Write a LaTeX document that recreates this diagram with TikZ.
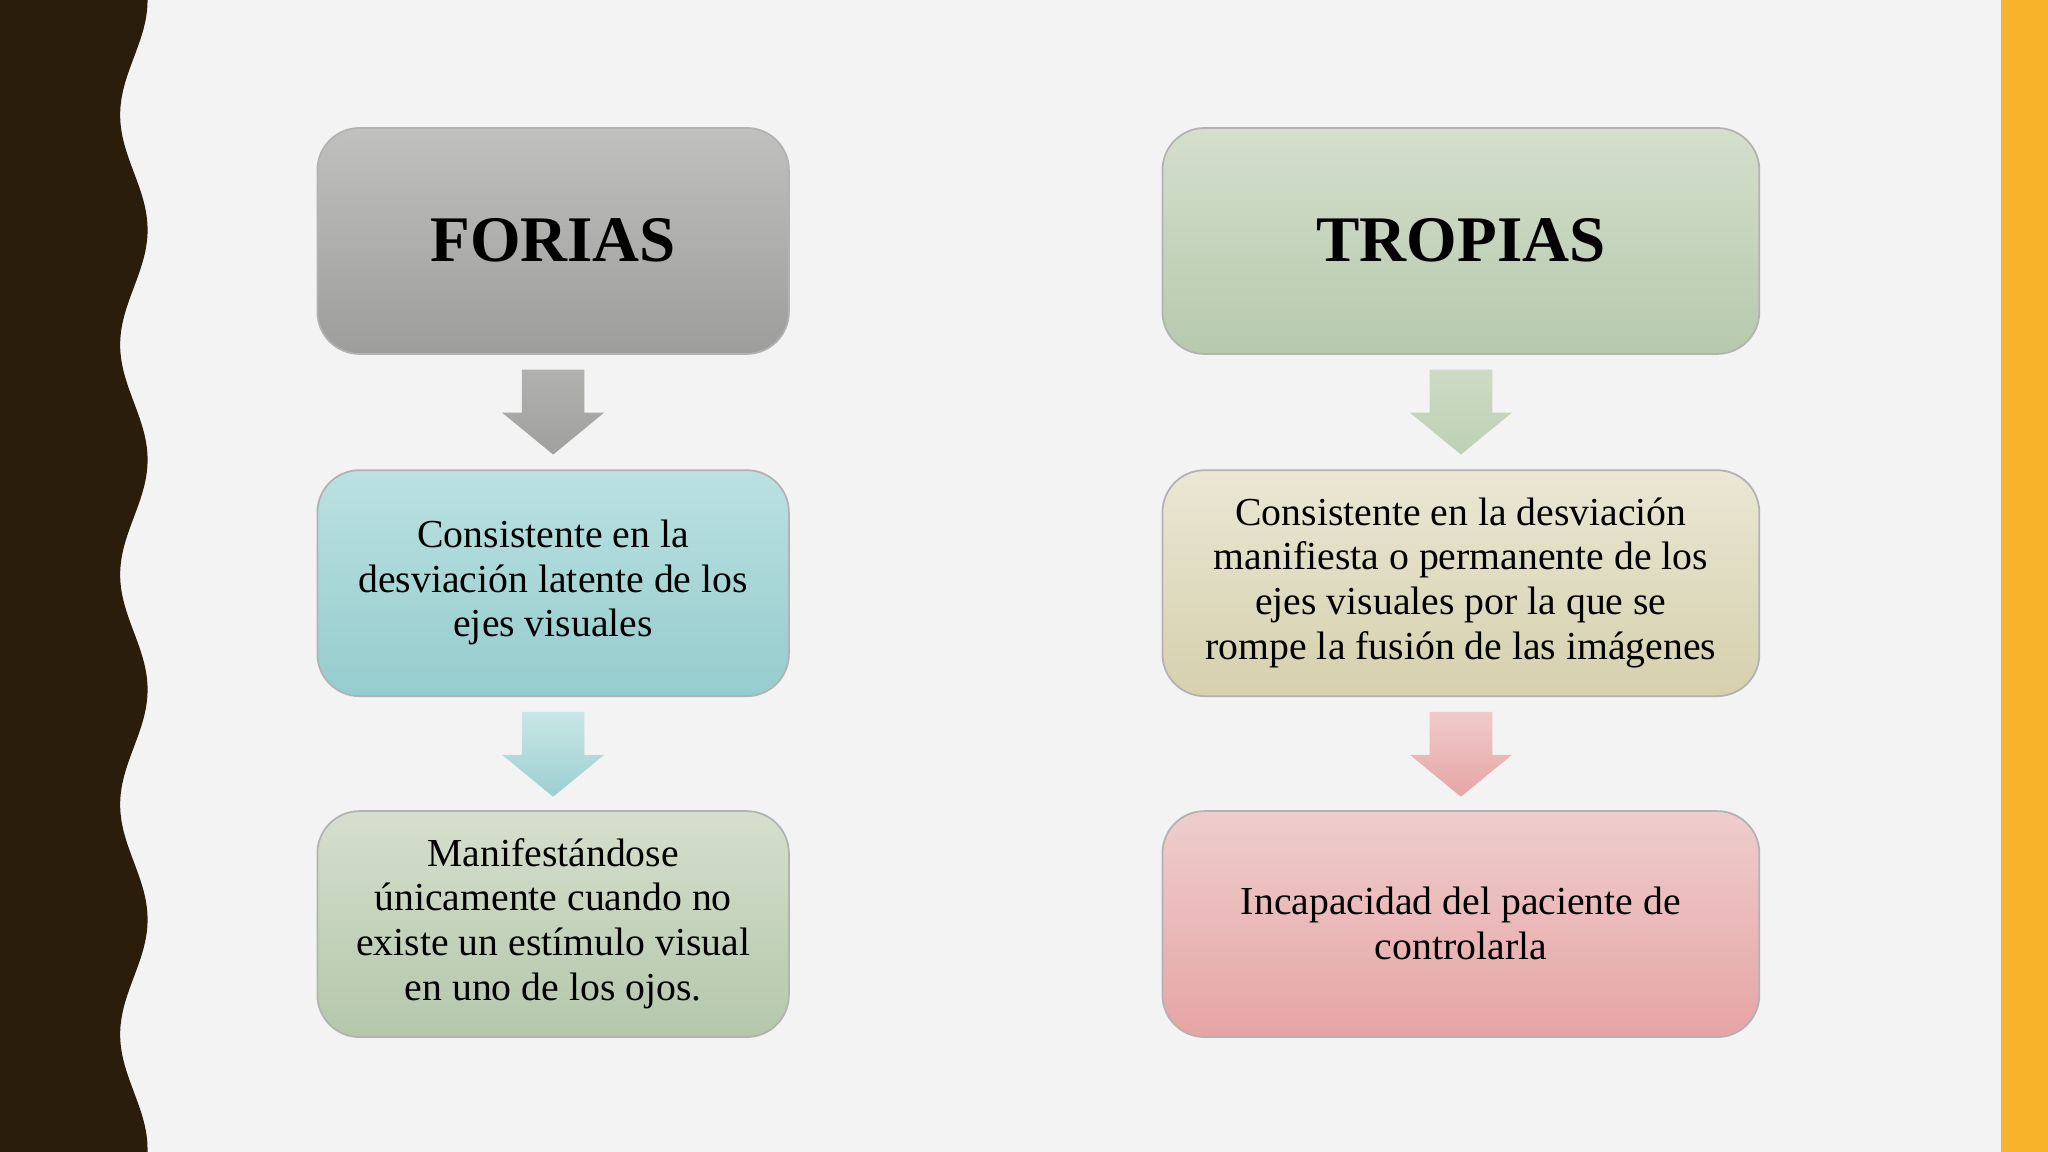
\documentclass[tikz,border=0pt]{standalone}
\usepackage{fontspec}
\setmainfont{Liberation Serif}
\definecolor{bg}{HTML}{F3F3F4}
\definecolor{orng}{HTML}{F8B32A}
\definecolor{dark}{HTML}{2A1D0C}
\definecolor{ga}{HTML}{C0C0BE}\definecolor{gb}{HTML}{9D9D9B}
\definecolor{ta}{HTML}{BBE1E1}\definecolor{tb}{HTML}{95CCCD}
\definecolor{sa}{HTML}{D5DFCD}\definecolor{sb}{HTML}{B4C7AB}
\definecolor{ra}{HTML}{D4DFCC}\definecolor{rb}{HTML}{B6C9AD}
\definecolor{ea}{HTML}{EAE7D4}\definecolor{eb}{HTML}{D6D0AD}
\definecolor{pa}{HTML}{EFCDCD}\definecolor{pb}{HTML}{E6A4A4}
\definecolor{aga}{HTML}{B0B0AE}\definecolor{agb}{HTML}{A0A09E}
\definecolor{ata}{HTML}{C9E6E6}\definecolor{atb}{HTML}{9CCFD0}
\definecolor{ara}{HTML}{CDDBC5}\definecolor{arb}{HTML}{BDD0B5}
\definecolor{apa}{HTML}{F0CACA}\definecolor{apb}{HTML}{E6A6A6}
\newcommand\bx[6]{\shade[top color=#5,bottom color=#6,draw=black!30,line width=0.5pt,rounded corners=12pt] (#1,#2) rectangle (#3,#4);}
\newcommand\ar[4]{\shade[top color=#3,bottom color=#4] (#1-24,#2) -- (#1+24,#2) -- (#1+24,#2+33) -- (#1+39,#2+33) -- (#1,#2+65) -- (#1-39,#2+33) -- (#1-24,#2+33) -- cycle;}
\begin{document}
\begin{tikzpicture}[x=0.013061cm,y=-0.013061cm,
 txt/.style={align=center,font=\fontsize{11.3}{12.7}\selectfont},
 ttl/.style={font=\fontsize{18.5}{20}\selectfont\bfseries}]
\fill[bg] (0,0) rectangle (1568,882);
\useasboundingbox (0,0) rectangle (1568,882);
\fill[orng] (1532,0) rectangle (1568,882);
\fill[dark] (0,0) -- plot[domain=0:882,samples=120,smooth] ({102.5-10.5*cos(2.04545*(\x-88))},\x) -- (0,882) -- cycle;
\bx{243}{98}{604}{271}{ga}{gb}
\bx{243}{360}{604}{533}{ta}{tb}
\bx{243}{621}{604}{794}{sa}{sb}
\bx{890}{98}{1347}{271}{ra}{rb}
\bx{890}{360}{1347}{533}{ea}{eb}
\bx{890}{621}{1347}{794}{pa}{pb}
\node[ttl] (f1) at (423.5,184) {FORIAS};
\node[ttl] (t1) at (1118.5,184) {TROPIAS};
\node[txt] (f2) at (423.5,446) {Consistente en la\\desviación latente de los\\ejes visuales};
\node[txt] (f3) at (423.5,707) {Manifestándose\\únicamente cuando no\\existe un estímulo visual\\en uno de los ojos.};
\node[txt] (t2) at (1118.5,446) {Consistente en la desviación\\manifiesta o permanente de los\\ejes visuales por la que se\\rompe la fusión de las imágenes};
\node[txt] (t3) at (1118.5,707) {Incapacidad del paciente de\\controlarla};
\ar{423.5}{283}{aga}{agb}
\ar{423.5}{545}{ata}{atb}
\ar{1118.5}{283}{ara}{arb}
\ar{1118.5}{545}{apa}{apb}
\end{tikzpicture}
\end{document}
